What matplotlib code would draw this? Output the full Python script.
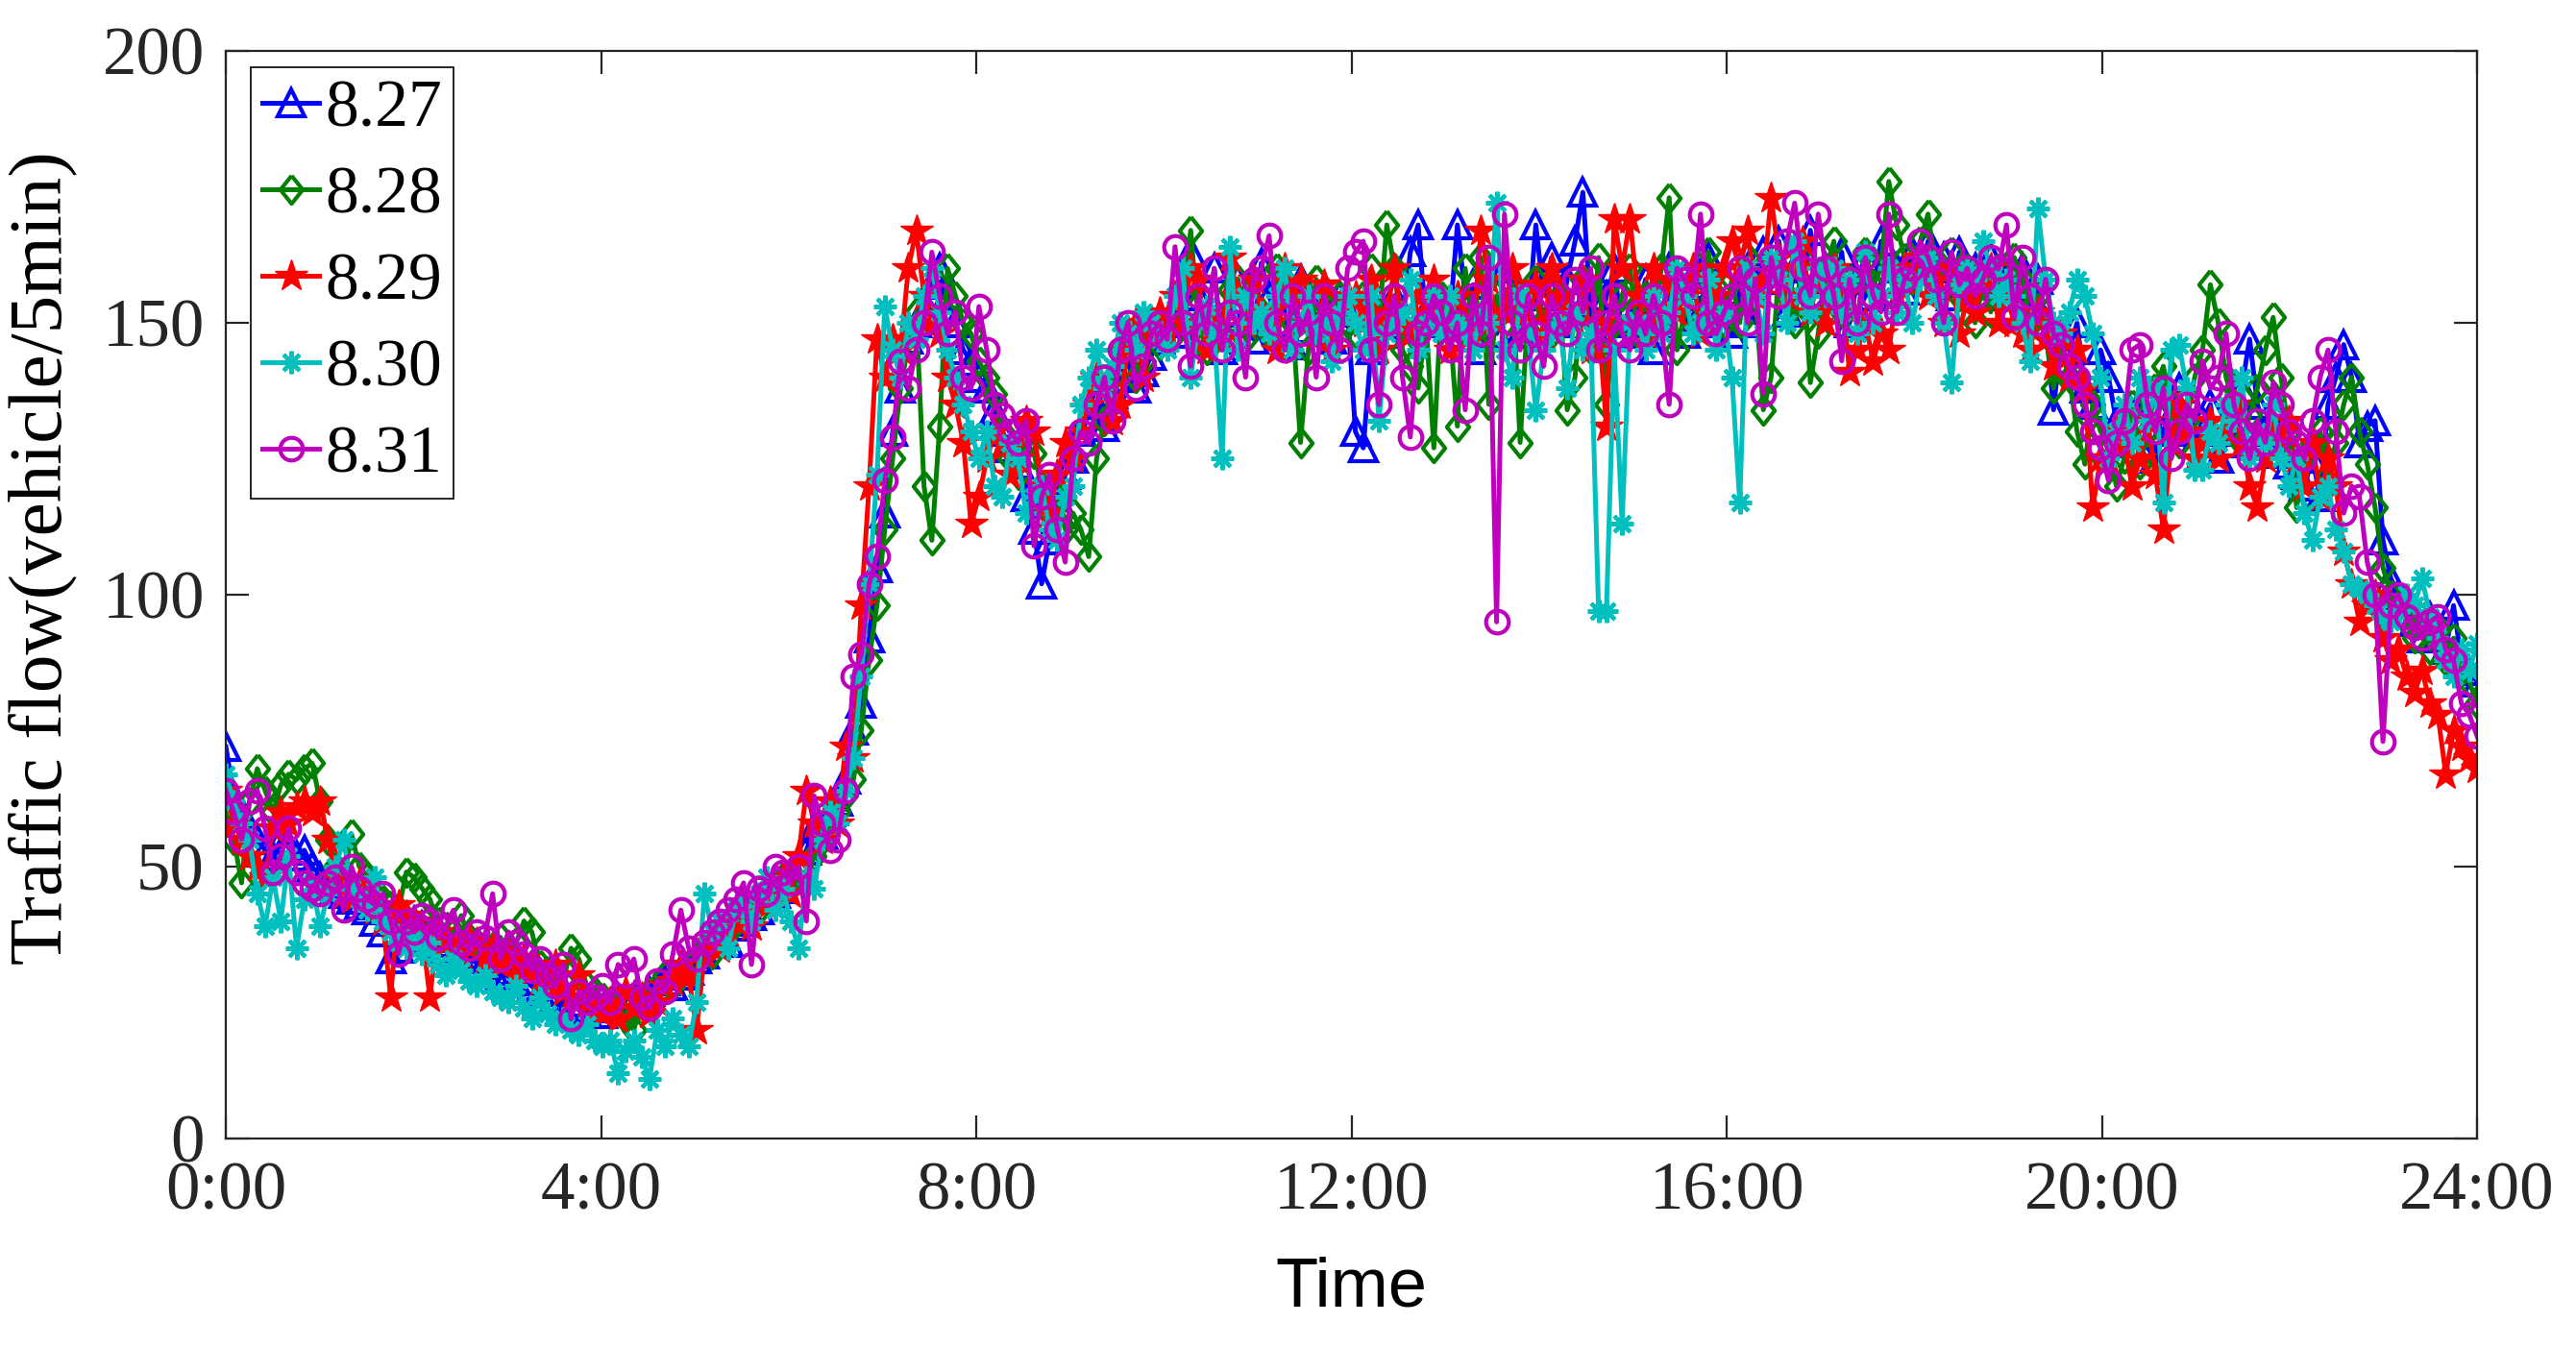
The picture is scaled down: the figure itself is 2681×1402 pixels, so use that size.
import numpy as np
import matplotlib.pyplot as plt

# traffic flow per 5 min slot, one row per hour (12 slots)
flow_827 = [
    72, 63, 60, 57, 55, 53, 52, 55, 54, 52, 53, 50,
    48, 47, 46, 45, 44, 43, 42, 40, 38, 33, 35, 38,
    40, 39, 37, 36, 35, 34, 33, 34, 32, 31, 31, 30,
    30, 29, 29, 28, 27, 27, 26, 24, 25, 24, 23, 24,
    23, 24, 25, 26, 26, 25, 27, 28, 29, 28, 30, 31,
    33, 34, 36, 37, 36, 39, 40, 41, 42, 44, 45, 46,
    48, 50, 53, 57, 56, 60, 62, 66, 75, 80, 92, 105,
    115, 130, 138, 147, 150, 152, 157, 160, 155, 150, 145, 143,
    140, 138, 134, 130, 127, 124, 118, 112, 102, 110, 118, 122,
    125, 130, 133, 135, 131, 137, 140, 143, 138, 141, 144, 147,
    150, 152, 148, 163, 155, 149, 160, 145, 152, 158, 150, 147,
    161, 155, 150, 153, 146, 158, 149, 154, 150, 147, 155, 152,
    130, 127, 145, 152, 148, 155, 150, 163, 168, 150, 155, 153,
    150, 168, 155, 157, 145, 152, 148, 160, 155, 148, 150, 168,
    155, 162, 150, 158, 165, 174, 152, 147, 155, 160, 148, 150,
    152, 158, 145, 150, 160, 155, 148, 157, 152, 162, 155, 150,
    148, 156, 160, 150, 163, 158, 165, 152, 160, 155, 167, 158,
    160, 155, 163, 150, 158, 162, 155, 165, 158, 160, 156, 163,
    158, 165, 160, 162, 155, 163, 158, 160, 157, 162, 155, 158,
    155, 160, 152, 158, 150, 134, 148, 145, 150, 138, 135, 145,
    140, 132, 130, 128, 135, 127, 125, 130, 133, 138, 130, 128,
    132, 135, 125, 130, 128, 138, 147, 135, 130, 126, 130, 124,
    122, 120, 125, 118, 135, 140, 146, 140, 128, 131, 132, 110,
    103, 100, 97, 95, 92, 96, 93, 90, 98, 88, 86, 84,
]
flow_828 = [
    60, 55, 47, 62, 68, 64, 60, 65, 67, 66, 68, 69,
    62, 55, 50, 47, 56, 50, 48, 45, 44, 43, 42, 49,
    48, 46, 44, 40, 39, 38, 41, 37, 36, 35, 34, 37,
    34, 36, 40, 38, 32, 31, 30, 29, 35, 33, 28, 27,
    26, 25, 24, 22, 20, 25, 27, 26, 30, 28, 31, 32,
    33, 35, 34, 37, 38, 40, 41, 43, 42, 45, 47, 48,
    48, 50, 47, 52, 55, 57, 60, 63, 66, 75, 88, 98,
    112, 125, 138, 146, 152, 120, 110, 131, 160, 155, 150, 148,
    143, 140, 137, 130, 125, 122, 128, 126, 120, 115, 118, 112,
    115, 112, 107, 125, 132, 140, 145, 147, 140, 143, 148, 146,
    150, 148, 155, 167, 150, 145, 152, 148, 156, 158, 147, 153,
    152, 148, 160, 157, 150, 128, 145, 158, 152, 147, 155, 150,
    148, 155, 160, 150, 168, 160, 145, 142, 138, 150, 127, 155,
    150, 131, 160, 148, 162, 135, 155, 150, 157, 128, 152, 158,
    150, 148, 155, 134, 140, 158, 145, 162, 135, 150, 155, 160,
    148, 155, 150, 160, 173, 145, 152, 158, 150, 163, 155, 150,
    158, 150, 162, 155, 134, 140, 160, 155, 150, 162, 139, 148,
    160, 165, 152, 158, 150, 163, 157, 160, 176, 168, 162, 158,
    165, 170, 160, 158, 163, 155, 160, 150, 157, 152, 160, 155,
    162, 158, 150, 155, 148, 138, 145, 140, 130, 124, 135, 130,
    128, 120, 125, 135, 124, 130, 138, 142, 135, 128, 132, 140,
    145, 157, 150, 140, 135, 128, 133, 138, 145, 151, 140, 130,
    116, 125, 128, 130, 122, 128, 135, 140, 130, 124, 116, 105,
    100, 98, 95, 92, 96, 90, 94, 88, 92, 86, 84, 80,
]
flow_829 = [
    64, 58, 55, 52, 50, 48, 57, 60, 58, 61, 62, 60,
    62, 55, 48, 45, 44, 47, 46, 42, 40, 26, 43, 41,
    40, 38, 26, 38, 36, 35, 34, 37, 36, 33, 35, 32,
    34, 30, 33, 31, 29, 28, 32, 27, 26, 30, 25, 24,
    23, 25, 22, 27, 24, 26, 23, 25, 28, 29, 32, 30,
    20, 34, 36, 35, 38, 40, 42, 39, 44, 43, 46, 48,
    45, 52, 64, 58, 55, 62, 58, 72, 70, 98, 120, 147,
    140, 147, 145, 160, 167, 155, 150, 148, 140, 135, 128, 113,
    118, 125, 130, 128, 122, 125, 132, 130, 120, 115, 122, 128,
    125, 130, 135, 140, 138, 132, 135, 145, 150, 140, 148, 152,
    148, 155, 150, 160, 158, 145, 150, 147, 162, 155, 150, 158,
    152, 150, 145, 160, 155, 158, 150, 148, 157, 145, 152, 155,
    155, 150, 158, 145, 152, 160, 150, 148, 155, 152, 158, 150,
    145, 155, 150, 148, 167, 158, 150, 152, 160, 155, 150, 157,
    148, 160, 155, 152, 150, 158, 145, 150, 131, 169, 160, 169,
    155, 148, 160, 150, 158, 152, 155, 160, 148, 158, 155, 160,
    165, 160, 167, 155, 158, 173, 162, 155, 160, 165, 152, 158,
    150, 160, 155, 141, 145, 150, 143, 148, 145, 155, 160, 158,
    162, 155, 158, 150, 160, 148, 155, 152, 158, 160, 150, 155,
    150, 148, 145, 152, 147, 142, 148, 140, 145, 138, 116, 125,
    125, 130, 128, 120, 125, 132, 122, 112, 128, 135, 130, 125,
    128, 132, 125, 130, 135, 128, 120, 116, 125, 130, 128, 132,
    125, 120, 128, 118, 125, 120, 108, 102, 95, 98, 100, 92,
    88, 90, 85, 82, 86, 80, 78, 67, 75, 72, 70, 68,
]
flow_830 = [
    67, 62, 58, 55, 45, 39, 48, 40, 52, 35, 44, 47,
    39, 45, 50, 55, 46, 44, 42, 48, 40, 38, 36, 35,
    37, 34, 36, 32, 30, 33, 31, 29, 28, 30, 27, 26,
    25, 28, 24, 22, 26, 23, 21, 22, 20, 19, 21, 18,
    17, 18, 12, 16, 18, 15, 11, 20, 17, 22, 19, 17,
    25, 45, 38, 40, 35, 42, 44, 40, 45, 48, 42, 46,
    40, 35, 48, 46, 55, 60, 58, 64, 70, 85, 102, 122,
    153, 145, 140, 150, 147, 155, 160, 152, 145, 140, 135, 130,
    125, 130, 120, 118, 128, 125, 115, 118, 120, 112, 110, 118,
    120, 135, 140, 145, 138, 142, 150, 148, 145, 152, 150, 147,
    145, 155, 160, 140, 150, 153, 148, 125, 164, 145, 155, 150,
    152, 148, 155, 160, 145, 150, 155, 148, 150, 143, 152, 155,
    150, 145, 155, 132, 148, 150, 152, 158, 145, 150, 155, 148,
    155, 150, 148, 145, 152, 150, 172, 145, 140, 155, 148, 134,
    145, 148, 150, 138, 152, 145, 148, 97, 97, 145, 113, 150,
    150, 145, 155, 148, 152, 160, 155, 148, 150, 158, 145, 152,
    140, 117, 160, 155, 148, 162, 158, 150, 165, 155, 152, 160,
    155, 160, 152, 158, 148, 163, 150, 155, 160, 152, 158, 150,
    158, 162, 155, 150, 139, 157, 160, 158, 165, 160, 155, 158,
    155, 150, 143, 171, 158, 150, 148, 152, 158, 155, 148, 140,
    125, 130, 135, 128, 140, 132, 138, 117, 145, 146, 138, 123,
    123, 130, 128, 135, 132, 140, 125, 130, 128, 135, 125, 120,
    125, 115, 110, 118, 120, 112, 108, 102, 101, 100, 98, 96,
    95, 97, 100, 98, 103, 96, 92, 88, 85, 90, 86, 91,
]
flow_831 = [
    64, 60, 55, 62, 64, 57, 49, 52, 57, 49, 47, 46,
    45, 47, 48, 42, 50, 46, 44, 43, 45, 40, 34, 40,
    38, 41, 40, 37, 39, 42, 36, 35, 38, 37, 45, 33,
    38, 36, 34, 31, 33, 30, 28, 32, 22, 27, 25, 26,
    28, 25, 32, 30, 33, 26, 24, 29, 27, 34, 42, 35,
    33, 36, 38, 40, 42, 44, 47, 32, 46, 45, 50, 49,
    47, 50, 40, 63, 58, 53, 55, 64, 85, 89, 102, 107,
    121, 129, 143, 138, 145, 150, 163, 155, 148, 152, 140, 138,
    153, 145, 135, 133, 130, 128, 132, 109, 118, 122, 112, 106,
    125, 130, 128, 135, 140, 132, 145, 150, 138, 142, 148, 150,
    147, 164, 150, 142, 155, 148, 160, 145, 152, 150, 140, 158,
    160, 166, 150, 145, 155, 148, 152, 140, 155, 150, 145, 160,
    163, 165, 145, 135, 150, 155, 140, 129, 148, 150, 155, 152,
    145, 150, 134, 155, 148, 162, 95, 170, 150, 145, 155, 148,
    142, 155, 150, 148, 158, 152, 160, 145, 150, 155, 148, 145,
    152, 148, 155, 150, 135, 160, 158, 155, 170, 150, 148, 152,
    155, 160, 150, 158, 137, 162, 155, 165, 172, 160, 155, 170,
    160, 155, 143, 158, 150, 162, 155, 152, 170, 152, 158, 160,
    165, 162, 158, 150, 163, 157, 160, 155, 158, 162, 160, 168,
    151, 162, 155, 150, 158, 148, 146, 142, 140, 135, 130, 127,
    121, 128, 132, 145, 146, 135, 130, 138, 125, 130, 135, 132,
    143, 138, 140, 148, 135, 130, 125, 132, 128, 139, 135, 130,
    128, 125, 132, 140, 145, 130, 115, 120, 118, 106, 100, 73,
    98, 100, 96, 94, 92, 95, 96, 90, 88, 80, 78, 74,
]

labels = ["8.27", "8.28", "8.29", "8.30", "8.31"]
tick_labels = ["0:00", "4:00", "8:00", "12:00", "16:00", "20:00", "24:00"]

plt.rcParams['font.family'] = ['Liberation Serif', 'DejaVu Serif']

fig = plt.figure(figsize=(26.81, 14.02), dpi=100)
ax = fig.add_axes([0.0877, 0.1548, 0.8739, 0.8074])

x = np.arange(len(flow_827))
diamond = [(0, 1), (0.8, 0), (0, -1), (-0.8, 0), (0, 1)]

# colour, marker, size, face, edge width  (MATLAB b g r c m)
styles = [
    ((0, 0, 1), '^', 20, 'none', 3.0),
    ((0, 0.5, 0), diamond, 21, 'none', 3.0),
    ((1, 0, 0), '*', 25, None, 1.0),
    ((0, 0.75, 0.75), (8, 2, 0), 17, 'none', 3.0),
    ((0.75, 0, 0.75), 'o', 17, 'none', 3.0),
]
data = [flow_827, flow_828, flow_829, flow_830, flow_831]

for lab, y, (c, m, ms, mfc, mew) in zip(labels, data, styles):
    ax.plot(x, y, color=c, lw=3.6, marker=m, ms=ms,
            mfc=c if mfc is None else mfc, mec=c, mew=mew, label=lab)

ax.set_xlim(0, len(x) - 1)
ax.set_ylim(0, 200)
ax.set_xticks(np.linspace(0, len(x) - 1, 7))
ax.set_xticklabels(tick_labels)
ax.set_yticks([0, 50, 100, 150, 200])

for s in ax.spines.values():
    s.set_color('#262626')
    s.set_linewidth(1.6)
ax.tick_params(direction='in', length=17, width=1.6, top=True, right=True,
               colors='#262626', labelsize=51)
ax.tick_params(axis='x', pad=17)
ax.tick_params(axis='y', pad=16)

ax.set_ylabel("Traffic flow(vehicle/5min)", fontsize=57, color='k')
ax.yaxis.set_label_coords(-0.066, 0.534)
ax.set_xlabel("Time", fontsize=52, color='k', family=['Liberation Sans', 'DejaVu Sans'])
ax.xaxis.set_label_coords(0.5, -0.108)

leg = ax.legend(loc='upper left', bbox_to_anchor=(0.011, 0.985), borderaxespad=0,
                fontsize=50, handlelength=0.85, handletextpad=0.08, labelspacing=0.38,
                borderpad=0.18, fancybox=False, framealpha=1, edgecolor='k')
leg.get_frame().set_linewidth(1.2)

fig.savefig("out.png", dpi=100)
